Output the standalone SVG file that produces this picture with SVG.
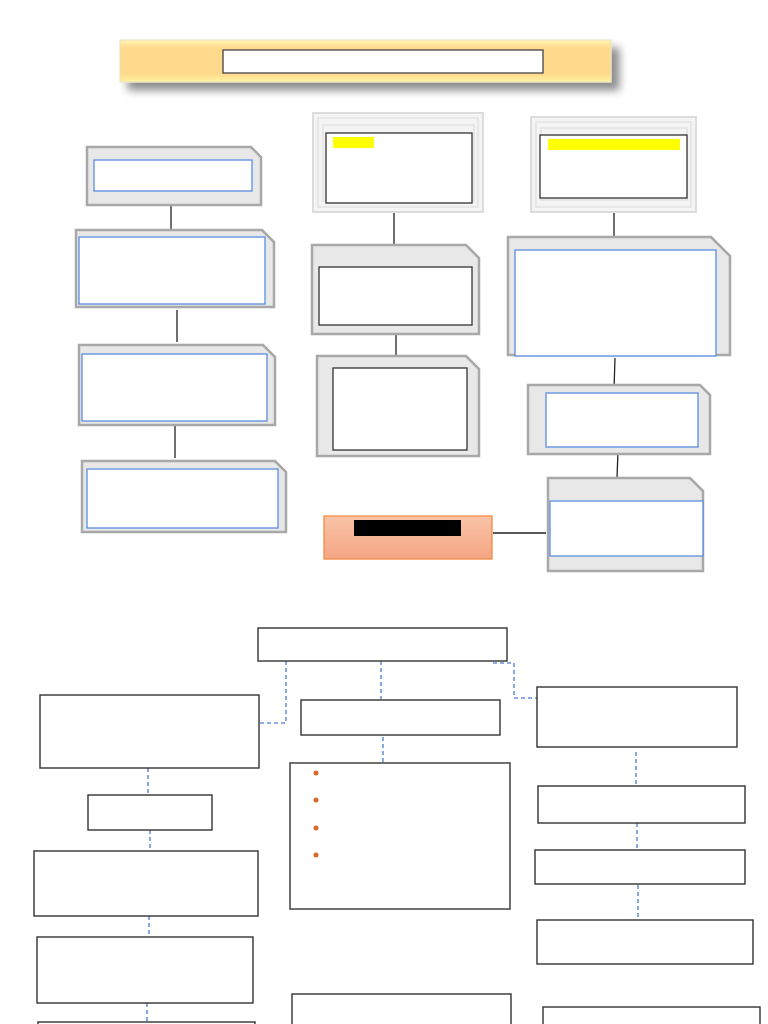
<svg xmlns="http://www.w3.org/2000/svg" width="768" height="1024" viewBox="0 0 768 1024">
<defs>
<linearGradient id="gold" x1="0" y1="0" x2="0" y2="1">
<stop offset="0" stop-color="#fff6b0"/>
<stop offset="0.2" stop-color="#ffd98c"/>
<stop offset="0.8" stop-color="#ffd98c"/>
<stop offset="1" stop-color="#fff3a0"/>
</linearGradient>
<linearGradient id="orange" x1="0" y1="0" x2="0" y2="1">
<stop offset="0" stop-color="#f9c3a5"/>
<stop offset="1" stop-color="#f5a585"/>
</linearGradient>
<filter id="shadow" x="-10%" y="-30%" width="130%" height="190%">
<feGaussianBlur in="SourceAlpha" stdDeviation="4"/>
<feOffset dx="8" dy="8"/>
<feComponentTransfer><feFuncA type="linear" slope="0.45"/></feComponentTransfer>
<feMerge><feMergeNode/><feMergeNode in="SourceGraphic"/></feMerge>
</filter>
</defs>
<style>
.snip{fill:#e8e8e8;stroke:#a8a8a8;stroke-width:2.5}
.blue{fill:#ffffff;stroke:#5b8ee0;stroke-width:1.3}
.dark{fill:#ffffff;stroke:#333333;stroke-width:1.3}
.frame{fill:#f4f4f4;stroke:#dcdcdc;stroke-width:2}
.frame2{fill:none;stroke:#e2e2e2;stroke-width:1.5}
.box{fill:#ffffff;stroke:#333333;stroke-width:1.4}
.solid{stroke:#222222;stroke-width:1.3;fill:none}
.dash{stroke:#6a93dc;stroke-width:1.6;stroke-dasharray:4 3;fill:none}
.bullet{fill:#d86a2a}
</style>
<rect width="768" height="1024" fill="#ffffff"/>

<g id="connectors">
<line class="solid" x1="171" y1="205" x2="171" y2="230"/>
<line class="solid" x1="177" y1="310" x2="177" y2="342"/>
<line class="solid" x1="175" y1="426" x2="175" y2="458"/>
<line class="solid" x1="394" y1="212" x2="394" y2="245"/>
<line class="solid" x1="396" y1="335" x2="396" y2="355"/>
<line class="solid" x1="614" y1="212" x2="614" y2="238"/>
<line class="solid" x1="615" y1="358" x2="614" y2="390"/>
<line class="solid" x1="618" y1="451" x2="617" y2="478"/>
<line class="solid" x1="493" y1="533" x2="546" y2="533"/>
<polyline class="dash" points="286,661 286,723 260,723"/>
<line class="dash" x1="381" y1="661" x2="381" y2="699"/>
<polyline class="dash" points="493,663 514,663 514,698 537,698"/>
<line class="dash" x1="148" y1="768" x2="148" y2="795"/>
<line class="dash" x1="150" y1="830" x2="150" y2="851"/>
<line class="dash" x1="149" y1="916" x2="149" y2="937"/>
<line class="dash" x1="147" y1="1003" x2="147" y2="1022"/>
<line class="dash" x1="383" y1="737" x2="383" y2="763"/>
<line class="dash" x1="636" y1="752" x2="636" y2="786"/>
<line class="dash" x1="637" y1="823" x2="637" y2="848"/>
<line class="dash" x1="638" y1="885" x2="638" y2="918"/>
</g>

<g id="title">
<rect x="120" y="40" width="491" height="42" fill="url(#gold)" stroke="#e8e0c0" stroke-width="1" filter="url(#shadow)"/>
<rect x="223" y="50" width="320" height="23" fill="#ffffff" stroke="#444444" stroke-width="1.3"/>
</g>

<g id="L1">
<path class="snip" d="M87,147 H251 L261,157 V205 H87 Z"/>
<rect class="blue" x="94" y="160" width="158" height="31"/>
</g>
<g id="L2">
<path class="snip" d="M76,230 H262 L274,242 V307 H76 Z"/>
<rect class="blue" x="79" y="237" width="186" height="67"/>
</g>
<g id="L3">
<path class="snip" d="M79,345 H263 L275,357 V425 H79 Z"/>
<rect class="blue" x="82" y="354" width="185" height="67"/>
</g>
<g id="L4">
<path class="snip" d="M82,461 H275 L286,472 V532 H82 Z"/>
<rect class="blue" x="87" y="469" width="191" height="59"/>
</g>

<g id="M1">
<rect class="frame" x="313" y="113" width="170" height="99"/>
<rect class="frame2" x="318" y="118" width="160" height="89"/>
<rect class="frame2" x="323" y="125" width="151" height="76"/>
<rect class="dark" x="326" y="133" width="146" height="70"/>
<rect x="333" y="137" width="41" height="11" fill="#ffff00"/>
</g>
<g id="M2">
<path class="snip" d="M312,245 H466 L479,258 V334 H312 Z"/>
<rect class="dark" x="319" y="267" width="153" height="58"/>
</g>
<g id="M3">
<path class="snip" d="M317,356 H466 L479,369 V456 H317 Z"/>
<rect class="dark" x="333" y="368" width="134" height="82"/>
</g>

<g id="R1">
<rect class="frame" x="531" y="117" width="165" height="95"/>
<rect class="frame2" x="536" y="122" width="155" height="85"/>
<rect class="frame2" x="541" y="128" width="146" height="72"/>
<rect class="dark" x="540" y="135" width="147" height="63"/>
<rect x="548" y="139" width="132" height="11" fill="#ffff00"/>
</g>
<g id="R2">
<path class="snip" d="M508,237 H711 L730,256 V355 H508 Z"/>
<rect class="blue" x="515" y="250" width="201" height="106"/>
</g>
<g id="R3">
<path class="snip" d="M528,385 H700 L710,395 V454 H528 Z"/>
<rect class="blue" x="546" y="393" width="152" height="54"/>
</g>
<g id="R4">
<path class="snip" d="M548,478 H690 L703,491 V571 H548 Z"/>
<rect class="blue" x="550" y="501" width="153" height="55"/>
</g>

<g id="orangebox">
<rect x="324" y="516" width="168" height="43" fill="url(#orange)" stroke="#f08c48" stroke-width="1.3"/>
<rect x="354" y="520" width="107" height="16" fill="#000000"/>
</g>

<g id="B0"><rect class="box" x="258" y="628" width="249" height="33"/></g>
<g id="BL1"><rect class="box" x="40" y="695" width="219" height="73"/></g>
<g id="BL2"><rect class="box" x="88" y="795" width="124" height="35"/></g>
<g id="BL3"><rect class="box" x="34" y="851" width="224" height="65"/></g>
<g id="BL4"><rect class="box" x="37" y="937" width="216" height="66"/></g>
<g id="BL5"><rect class="box" x="38" y="1022" width="217" height="20"/></g>
<g id="BM1"><rect class="box" x="301" y="700" width="199" height="35"/></g>
<g id="BM2">
<rect class="box" x="290" y="763" width="220" height="146"/>
<circle class="bullet" cx="316" cy="773" r="2.5"/>
<circle class="bullet" cx="316" cy="800" r="2.5"/>
<circle class="bullet" cx="316" cy="828" r="2.5"/>
<circle class="bullet" cx="316" cy="855" r="2.5"/>
</g>
<g id="BM3"><rect class="box" x="292" y="994" width="219" height="50"/></g>
<g id="BR1"><rect class="box" x="537" y="687" width="200" height="60"/></g>
<g id="BR2"><rect class="box" x="538" y="786" width="207" height="37"/></g>
<g id="BR3"><rect class="box" x="535" y="850" width="210" height="34"/></g>
<g id="BR4"><rect class="box" x="537" y="920" width="216" height="44"/></g>
<g id="BR5"><rect class="box" x="543" y="1007" width="217" height="40"/></g>
</svg>
